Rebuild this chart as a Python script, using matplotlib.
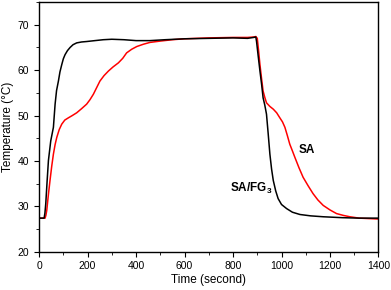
import matplotlib
matplotlib.use("Agg")
import matplotlib.pyplot as plt
from matplotlib.ticker import MultipleLocator

plt.rcParams["font.family"] = ["Liberation Sans", "DejaVu Sans"]
plt.rcParams["mathtext.fontset"] = "custom"
plt.rcParams["mathtext.bf"] = "Liberation Sans:bold"

# SA/FG3 composite (black)
t_fg = [0, 20.6, 24, 27.5, 33, 38.5, 48, 59, 66, 72, 79.7, 86, 93.4, 100, 107,
        117, 128, 140, 155, 175, 196, 230, 265, 300, 350, 400, 457, 520, 600,
        700, 800, 860, 885, 894, 897, 904, 911, 918, 924, 931, 938, 945, 952,
        959, 966, 976, 986, 1000, 1021, 1045, 1076, 1120, 1172, 1250, 1320, 1400]
temp_fg = [27.4, 27.4, 28.5, 30.6, 35.5, 40.1, 44.4, 47.4, 52.5, 55.5, 57.6,
           59.6, 61.2, 62.5, 63.4, 64.3, 65.0, 65.6, 66.0, 66.2, 66.3, 66.5,
           66.7, 66.8, 66.7, 66.5, 66.5, 66.7, 66.9, 67.0, 67.1, 67.0, 67.2,
           67.3, 66.3, 63.0, 59.8, 56.8, 53.9, 52.3, 50.3, 46.0, 41.5, 38.2,
           35.7, 33.4, 31.7, 30.4, 29.5, 28.7, 28.2, 27.9, 27.7, 27.5, 27.4, 27.4]

# pure SA (red)
t_sa = [0, 24.7, 28, 31.6, 38, 45, 52, 59, 66, 73, 83, 93.4, 106, 121, 137, 155,
        175, 196, 210, 224, 237, 251, 268, 286, 305, 327, 345, 361, 382, 403,
        430, 457, 500, 550, 600, 700, 800, 860, 885, 894, 900, 905, 911, 918,
        924, 931, 938, 952, 966, 980, 993, 1004, 1014, 1024, 1034, 1045, 1055,
        1072, 1089, 1110, 1130, 1150, 1172, 1200, 1227, 1255, 1282, 1320, 1360,
        1400]
temp_sa = [27.4, 27.4, 28.0, 29.1, 32.4, 35.7, 38.8, 41.5, 43.6, 45.2, 46.9,
           48.1, 49.0, 49.5, 50.0, 50.6, 51.5, 52.5, 53.5, 54.7, 56.1, 57.6,
           58.8, 59.8, 60.7, 61.6, 62.6, 63.8, 64.6, 65.2, 65.7, 66.1, 66.4,
           66.7, 66.9, 67.1, 67.2, 67.2, 67.3, 67.4, 67.0, 64.5, 61.2, 58.0,
           55.4, 54.0, 52.8, 52.0, 51.4, 50.6, 49.5, 48.6, 47.4, 45.6, 43.7,
           42.2, 40.8, 38.5, 36.4, 34.5, 32.8, 31.4, 30.2, 29.2, 28.4, 28.0,
           27.7, 27.4, 27.3, 27.2]

fig, ax = plt.subplots(figsize=(3.91, 2.90), dpi=100)
fig.subplots_adjust(left=0.1, right=0.968, top=0.993, bottom=0.132)

ax.plot(t_sa, temp_sa, color="#ff0000", lw=1.1)
ax.plot(t_fg, temp_fg, color="black", lw=1.1)

ax.text(1103, 42.4, "SA", fontsize=8.5, fontweight="bold", ha="center", va="center")
ax.text(876, 34, "SA/FG$_\\mathbf{3}$", fontsize=8.5, fontweight="bold",
        ha="center", va="center")

ax.set_xlim(0, 1400)
ax.set_ylim(20, 75)
ax.set_xticks(range(0, 1401, 200))
ax.set_yticks(range(20, 71, 10))
ax.xaxis.set_minor_locator(MultipleLocator(100))
ax.yaxis.set_minor_locator(MultipleLocator(5))
ax.tick_params(which="both", direction="out", labelsize=7.5, top=False, right=False)
ax.tick_params(which="major", length=3.5)
ax.tick_params(which="minor", length=2)
ax.set_xlabel("Time (second)", fontsize=8.5, labelpad=2)
ax.set_ylabel("Temperature (°C)", fontsize=8.5, labelpad=3)
for s in ax.spines.values():
    s.set_linewidth(1.0)

fig.savefig("out.png", dpi=100)
